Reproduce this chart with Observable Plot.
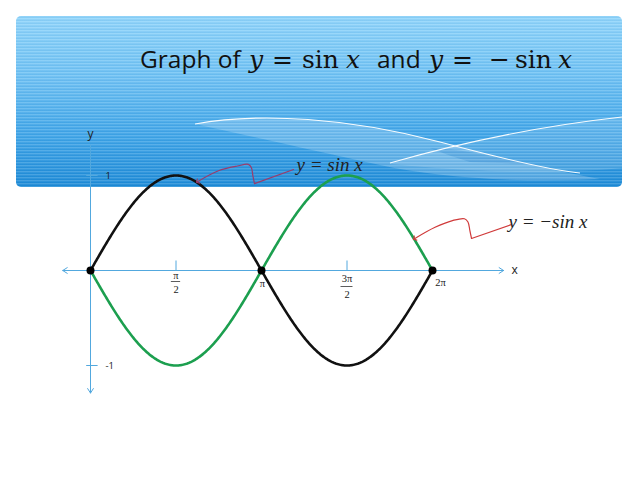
<!DOCTYPE html>
<html>
<head>
<meta charset="utf-8">
<script src="https://cdn.jsdelivr.net/npm/d3@7"></script>
<script src="https://cdn.jsdelivr.net/npm/@observablehq/plot@0.6"></script>
<style>
html, body { margin: 0; padding: 0; background: #fff; }
#slide { position: relative; width: 638px; height: 479px; overflow: hidden; background: #fff; }
#bg, #chart { position: absolute; left: 0; top: 0; }
#chart svg { display: block; }
</style>
</head>
<body>
<div id="slide">
  <svg id="bg" width="638" height="479" viewBox="0 0 638 479">
    <defs>
      <linearGradient id="bannerGrad" x1="0" y1="0" x2="0" y2="1">
        <stop offset="0" stop-color="#8fd5fb"/>
        <stop offset="0.35" stop-color="#6ec2f4"/>
        <stop offset="0.7" stop-color="#3ea5e8"/>
        <stop offset="1" stop-color="#1d8bd7"/>
      </linearGradient>
      <pattern id="stripes" width="6" height="3" patternUnits="userSpaceOnUse">
        <rect width="6" height="1.4" fill="#ffffff" opacity="0.16"/>
        <rect y="1.4" width="6" height="1.6" fill="#00408a" opacity="0.05"/>
      </pattern>
      <clipPath id="bannerClip"><rect x="16" y="16" width="606" height="171" rx="5"/></clipPath>
    </defs>
    <g clip-path="url(#bannerClip)">
      <rect x="16" y="16" width="606" height="171" fill="url(#bannerGrad)"/>
      <path d="M195,124 C260,112 350,118 440,142 C500,158 560,172 600,179 C520,183 440,178 380,165 C320,152 250,136 195,124 Z" fill="#ffffff" opacity="0.22"/>
      <path d="M390,164 C470,140 550,125 622,117 L622,168 C560,174 480,173 390,164 Z" fill="#ffffff" opacity="0.14"/>
      <path d="M430,148 C470,150 500,158 530,164 L470,162 C450,156 440,152 430,148 Z" fill="#1478c8" opacity="0.25"/>
      <rect x="16" y="16" width="606" height="171" fill="url(#stripes)"/>
      <path d="M195,124 C260,112 350,118 440,142 C500,158 550,170 580,173" fill="none" stroke="#ffffff" stroke-width="1.1" opacity="0.95"/>
      <path d="M390,163 C470,140 550,125 622,117" fill="none" stroke="#ffffff" stroke-width="1.1" opacity="0.95"/>
    </g>
    <g fill="#111">
      <text x="140" y="68" font-family="Open Sans" font-size="24.5">Graph of</text>
      <text x="249" y="68" font-family="DejaVu Serif" font-size="25" font-style="italic">y</text>
      <text x="272" y="68" font-family="DejaVu Serif" font-size="25">=</text>
      <text x="302" y="68" font-family="DejaVu Serif" font-size="25">sin</text>
      <text x="346" y="68" font-family="DejaVu Serif" font-size="25" font-style="italic">x</text>
      <text x="377" y="68" font-family="Open Sans" font-size="24.5">and</text>
      <text x="429" y="68" font-family="DejaVu Serif" font-size="25" font-style="italic">y</text>
      <text x="452" y="68" font-family="DejaVu Serif" font-size="25">=</text>
      <text x="489" y="68" font-family="DejaVu Serif" font-size="25">−</text>
      <text x="515" y="68" font-family="DejaVu Serif" font-size="25">sin</text>
      <text x="558" y="68" font-family="DejaVu Serif" font-size="25" font-style="italic">x</text>
    </g>
  </svg>
  <div id="chart"></div>
</div>
<script>
// ---- data ----
const TAU = 2 * Math.PI;
const xSamples = d3.range(0, 361, 1).map(d => d * Math.PI / 180);   // 0 .. 2π
const sinValues = xSamples.map(v => Math.sin(v));
const negSinValues = xSamples.map(v => -Math.sin(v));
const intercepts = [0, Math.PI, TAU];
const minorTicks = [Math.PI / 2, 3 * Math.PI / 2];
const yTickValues = [1, -1];
const yTickLabels = ["1", "-1"];
const fracNumerators = ["π", "3π"];
const fracDenominators = ["2", "2"];
const plainTickValues = [Math.PI, TAU];
const plainTickLabels = ["π", "2π"];
const xAxisExtent = [-0.51, 7.59];
const yAxisExtent = [-1.29, 1.32];
const axisNames = ["x", "y"];
const curveLabels = ["y = sin x", "y = −sin x"];
const curveLabelX = [3.785, 7.68];
const curveLabelY = [1.11, 0.51];
// pointer lines: straight lead from the label, then an S-bend ending at the curve
const sinLeadX = [3.730, 3.013];
const sinLeadY = [1.063, 0.915];
const sinBendX = [3.013, 2.985, 2.955, 2.900, 2.700, 2.350, 1.966];
const sinBendY = [0.915, 0.99, 1.085, 1.117, 1.100, 1.050, 0.935];
const negLeadX = [7.735, 7.000];
const negLeadY = [0.484, 0.337];
const negBendX = [7.000, 6.970, 6.935, 6.870, 6.650, 6.330, 5.953];
const negBendY = [0.337, 0.42, 0.51, 0.545, 0.525, 0.455, 0.335];

// ---- tables ----
const toRows = (xs, ys) => xs.map((x, i) => ({x, y: ys[i]}));
const sinSeries = toRows(xSamples, sinValues);
const negSinSeries = toRows(xSamples, negSinValues);
const sinLead = toRows(sinLeadX, sinLeadY);
const sinBend = toRows(sinBendX, sinBendY);
const negLead = toRows(negLeadX, negLeadY);
const negBend = toRows(negBendX, negBendY);
const yTicks = yTickValues.map((y, i) => ({y, label: yTickLabels[i]}));
const fracs = minorTicks.map((x, i) => ({x, num: fracNumerators[i], den: fracDenominators[i]}));
const plainTicks = plainTickValues.map((x, i) => ({x, label: plainTickLabels[i]}));
const labels = curveLabels.map((text, i) => ({x: curveLabelX[i], y: curveLabelY[i], text}));

const axisColor = "#52a8de";
const serif = "Liberation Serif";
const sans = "Open Sans";
const tickText = {fontFamily: serif, fontSize: 10.5, fill: "#1a1a1a"};

const chart = Plot.plot({
  width: 638,
  height: 479,
  x: {domain: [0, TAU], range: [90, 432], axis: null},
  y: {domain: [-1, 1], range: [365, 175], axis: null},
  style: {background: "transparent", overflow: "visible"},
  marks: [
    // axes
    Plot.arrow([xAxisExtent[1]], {x1: 0, x2: d => d, y1: 0, y2: 0, stroke: axisColor, strokeWidth: 1, headLength: 8, headAngle: 65}),
    Plot.arrow([xAxisExtent[0]], {x1: 0, x2: d => d, y1: 0, y2: 0, stroke: axisColor, strokeWidth: 1, headLength: 8, headAngle: 65}),
    Plot.ruleX([0], {y1: 0, y2: yAxisExtent[1], stroke: axisColor, strokeWidth: 1}),
    Plot.arrow([yAxisExtent[0]], {x1: 0, x2: 0, y1: 0, y2: d => d, stroke: axisColor, strokeWidth: 1, headLength: 8, headAngle: 65}),
    Plot.ruleX(minorTicks, {x: d => d, y1: 0, y2: 0.1, stroke: axisColor}),
    Plot.ruleY(yTicks, {y: "y", x1: -0.07, x2: 0.14, stroke: axisColor}),
    // tick labels
    Plot.text(yTicks, {x: 0, y: "y", text: "label", textAnchor: "start", dx: 15, fontFamily: sans, fontSize: 9.5, fill: "#1a1a1a"}),
    Plot.text([fracs[0]], {x: "x", y: 0, text: "num", dy: 5, ...tickText}),
    Plot.ruleY([fracs[0]], {y: 0, x1: d => d.x - 0.085, x2: d => d.x + 0.085, dy: 11, stroke: "#333", strokeWidth: 0.8}),
    Plot.text([fracs[0]], {x: "x", y: 0, text: "den", dy: 19, ...tickText}),
    Plot.text([fracs[1]], {x: "x", y: 0, text: "num", dy: 8, ...tickText}),
    Plot.ruleY([fracs[1]], {y: 0, x1: d => d.x - 0.11, x2: d => d.x + 0.11, dy: 16, stroke: "#333", strokeWidth: 0.8}),
    Plot.text([fracs[1]], {x: "x", y: 0, text: "den", dy: 24, ...tickText}),
    Plot.text([plainTicks[0]], {x: "x", y: 0, text: "label", dy: 13, dx: 1, ...tickText}),
    Plot.text([plainTicks[1]], {x: "x", y: 0, text: "label", dy: 12, dx: 8, ...tickText}),
    Plot.text([axisNames[0]], {x: xAxisExtent[1], y: 0, text: d => d, dx: 11, dy: 0, fontFamily: sans, fontSize: 12, fill: "#222"}),
    Plot.text([axisNames[1]], {x: 0, y: yAxisExtent[1], text: d => d, dy: -11, fontFamily: sans, fontSize: 12, fill: "#222"}),
    // curves
    Plot.line(negSinSeries, {x: "x", y: "y", stroke: "#1c9f4f", strokeWidth: 2.6}),
    Plot.line(sinSeries, {x: "x", y: "y", stroke: "#111", strokeWidth: 2.6}),
    Plot.dot(intercepts, {x: d => d, y: 0, r: 4, fill: "#000", stroke: "none"}),
    // annotations
    Plot.line(sinLead, {x: "x", y: "y", stroke: "#9a3c6c", strokeWidth: 1.2}),
    Plot.line(sinBend, {x: "x", y: "y", curve: "catmull-rom", stroke: "#9a3c6c", strokeWidth: 1.2, markerEnd: "arrow"}),
    Plot.line(negLead, {x: "x", y: "y", stroke: "#d03a3a", strokeWidth: 1.2}),
    Plot.line(negBend, {x: "x", y: "y", curve: "catmull-rom", stroke: "#d03a3a", strokeWidth: 1.2, markerEnd: "arrow"}),
    Plot.text(labels, {x: "x", y: "y", text: "text", textAnchor: "start", fontFamily: serif, fontStyle: "italic", fontSize: 19, fill: "#222"})
  ]
});
document.getElementById("chart").appendChild(chart);
</script>
</body>
</html>
